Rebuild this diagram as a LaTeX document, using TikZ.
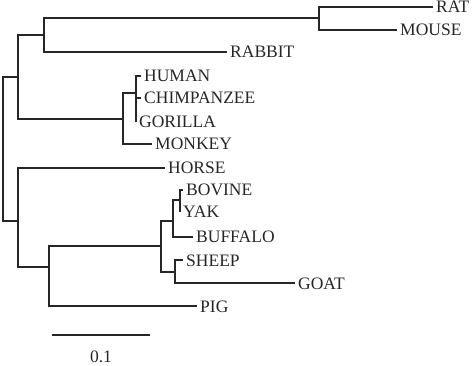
\documentclass[tikz,border=0pt]{standalone}
\usepackage{fontspec}
\setmainfont{Liberation Serif}

\begin{document}
\begin{tikzpicture}[
  x=1pt,y=-1pt,
  branch/.style={draw=black!85,line width=2pt},
  taxon/.style={anchor=west,inner sep=3pt,font=\fontsize{17.5}{20}\selectfont,
    text height=12pt,text depth=0pt,text=black!85}
  ]
  \useasboundingbox (0,0) rectangle (474,366);

  % internal nodes: x of the bar, y where the parent joins
  \coordinate (root) at (3,150);
  \coordinate (nA) at (18,77);
  \coordinate (nB) at (44,35);
  \coordinate (nC) at (319,18);
  \coordinate (nD) at (123,119);
  \coordinate (nE) at (136,93);
  \coordinate (nF) at (18,221);
  \coordinate (nK) at (49,267);
  \coordinate (nG) at (161,246);
  \coordinate (nH) at (173,221);
  \coordinate (nI) at (180,200);
  \coordinate (nJ) at (175,272);

  \foreach \a/\b in {root/nA,root/nF,nA/nB,nB/nC,nA/nD,nD/nE,
                     nF/nK,nK/nG,nG/nH,nH/nI,nG/nJ} {
    \draw[branch] (\a) |- (\b);
  }

  % leaves
  \foreach \up/\nm/\lx/\ly/\txt in {
      nC/rat/433/7/RAT, nC/mouse/397/30/MOUSE, nB/rabbit/227/52/RABBIT,
      nE/human/141/76/HUMAN, nE/chimp/141/98/CHIMPANZEE, nE/gorilla/136/122/GORILLA,
      nD/monkey/152/144/MONKEY, nF/horse/165/168/HORSE,
      nI/bovine/183/190/BOVINE, nI/yak/180/212/YAK, nH/buffalo/193/237/BUFFALO,
      nJ/sheep/183/260/SHEEP, nJ/goat/295/283/GOAT, nK/pig/197/306/PIG} {
    \node[taxon] (\nm) at (\lx,\ly) {\txt};
    \draw[branch] (\up) |- (\nm);
  }

  % scale bar
  \coordinate (barL) at (52,335);
  \coordinate (barR) at (150,335);
  \draw[branch] (barL) -- (barR);
  \node[font=\fontsize{17.5}{20}\selectfont,text=black!85] (barlabel) at (101,357) {0.1};
\end{tikzpicture}
\end{document}
